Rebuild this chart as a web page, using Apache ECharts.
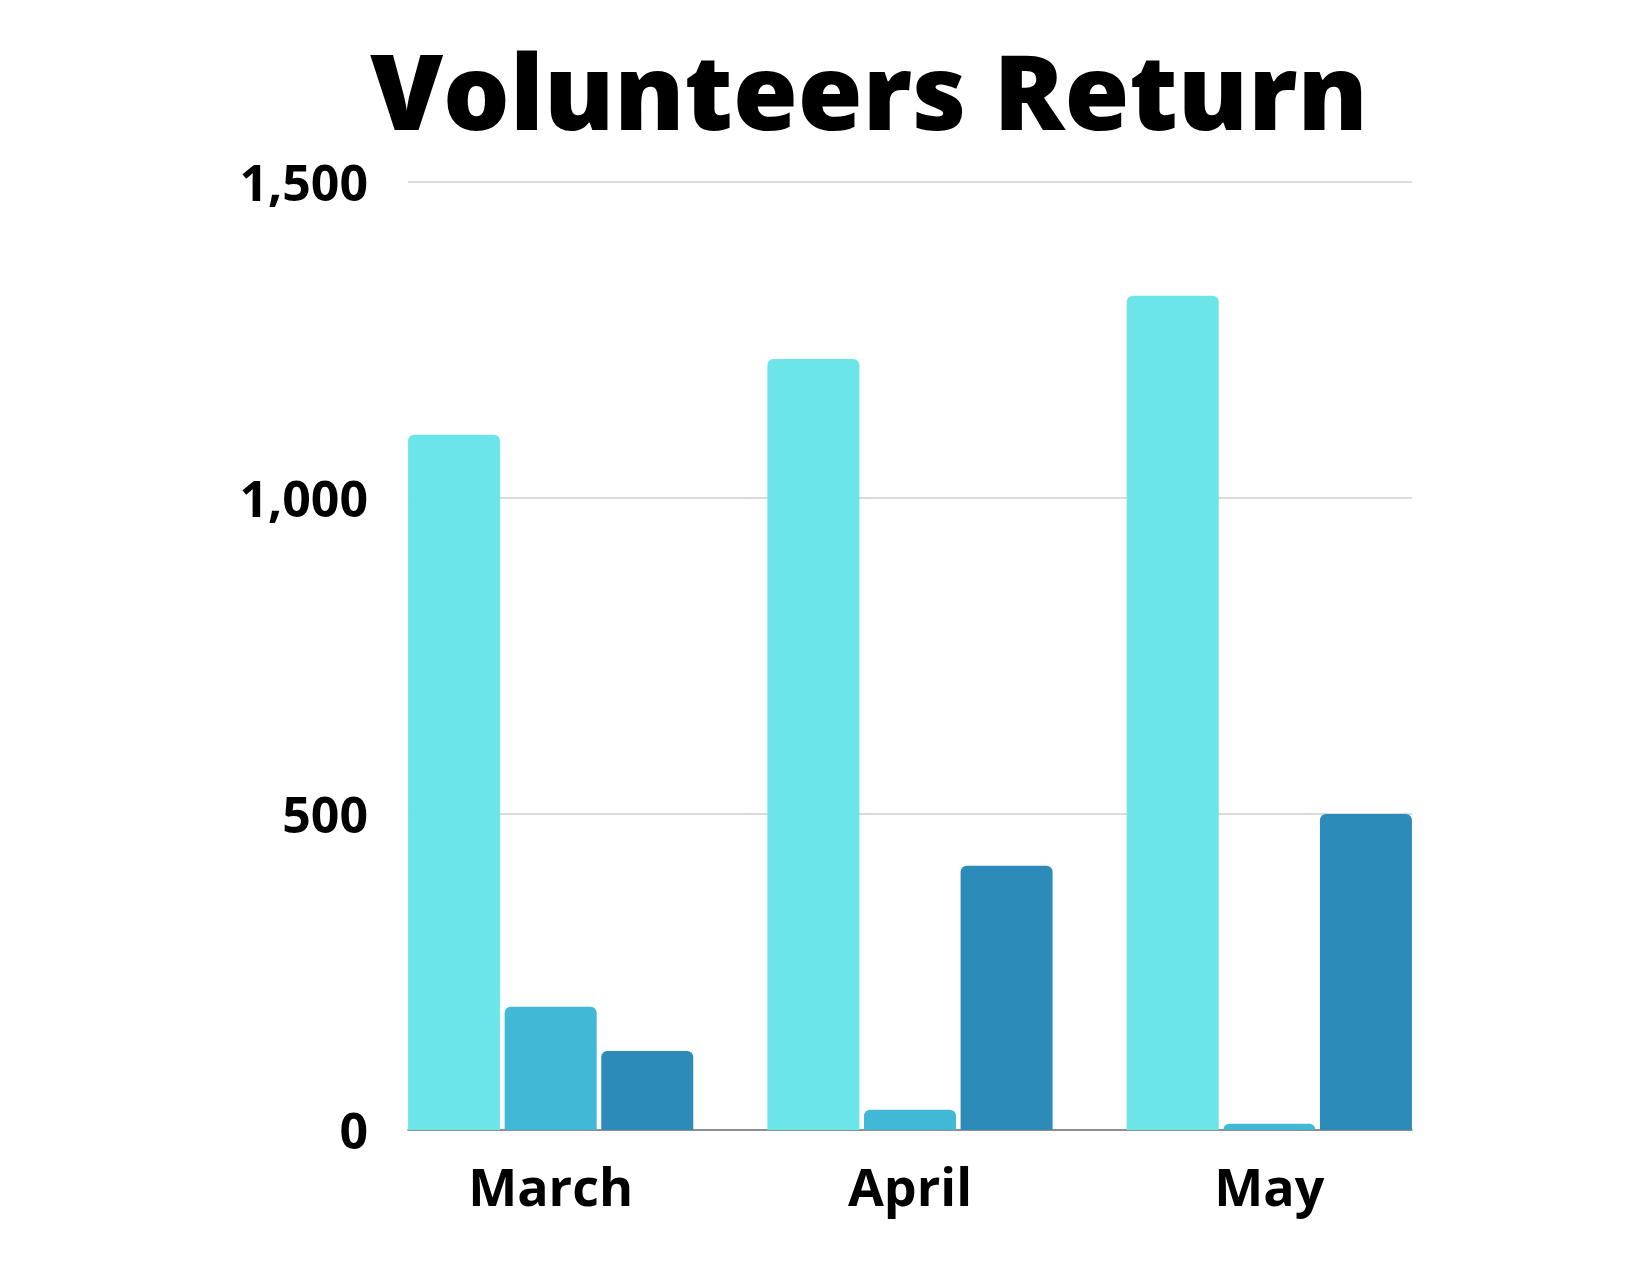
<!DOCTYPE html>
<html>
<head>
<meta charset="utf-8">
<script src="https://cdn.jsdelivr.net/npm/echarts@6/dist/echarts.min.js"></script>
<style>html,body{margin:0;padding:0;background:#fff}#c{width:1650px;height:1275px}</style>
</head>
<body>
<div id="c"></div>
<script>
const categories = ['March', 'April', 'May'];
const seriesA = [1100, 1220, 1320];
const seriesB = [195, 32, 10];
const seriesC = [125, 418, 500];
const yTicks = [0, 500, 1000, 1500];

const FONT = '"Open Sans", sans-serif';
const chart = echarts.init(document.getElementById('c'));
const barStyle = (c) => ({ color: c, borderRadius: [6, 6, 0, 0] });
chart.setOption({
  animation: false,
  backgroundColor: '#ffffff',
  title: {
    text: 'Volunteers Return',
    left: 864, textAlign: 'center', top: 43,
    textStyle: { fontFamily: FONT, fontWeight: 800, fontSize: 105, color: '#000' }
  },
  grid: [
    { left: 408, right: 238, top: 182, bottom: 145 },
    { left: 371, right: 201, top: 182, bottom: 145 }
  ],
  xAxis: [
    { type: 'category', gridIndex: 0, data: categories, axisLabel: { show: false }, axisTick: { show: false },
      axisLine: { show: true, lineStyle: { color: '#777', width: 1.5 } } },
    { type: 'category', gridIndex: 1, data: categories, axisTick: { show: false }, axisLine: { show: false },
      axisLabel: { margin: 35, fontFamily: FONT, fontWeight: 700, fontSize: 52, color: '#000' } }
  ],
  yAxis: [
    { type: 'value', gridIndex: 0, min: yTicks[0], max: yTicks[yTicks.length - 1], interval: 500,
      axisLine: { show: false }, axisTick: { show: false },
      splitLine: { lineStyle: { color: '#cfcfcf', width: 1.5 } },
      axisLabel: { margin: 40, fontFamily: FONT, fontWeight: 700, fontSize: 50, color: '#000',
        formatter: v => '{a|' + v.toLocaleString('en-US') + '}',
        rich: { a: { fontFamily: FONT, fontWeight: 700, fontSize: 50, color: '#000', padding: [9, 0, 0, 0] } } } },
    { type: 'value', gridIndex: 1, min: yTicks[0], max: yTicks[yTicks.length - 1], interval: 500,
      show: false, splitLine: { show: false } }
  ],
  series: [
    { type: 'bar', xAxisIndex: 1, yAxisIndex: 1, data: seriesA, barWidth: 92, barGap: '5%', itemStyle: barStyle('#6CE5E8') },
    { type: 'bar', xAxisIndex: 1, yAxisIndex: 1, data: seriesB, barWidth: 92, barGap: '5%', itemStyle: barStyle('#41B8D5') },
    { type: 'bar', xAxisIndex: 1, yAxisIndex: 1, data: seriesC, barWidth: 92, barGap: '5%', itemStyle: barStyle('#2D8BBA') }
  ]
});
</script>
</body>
</html>
